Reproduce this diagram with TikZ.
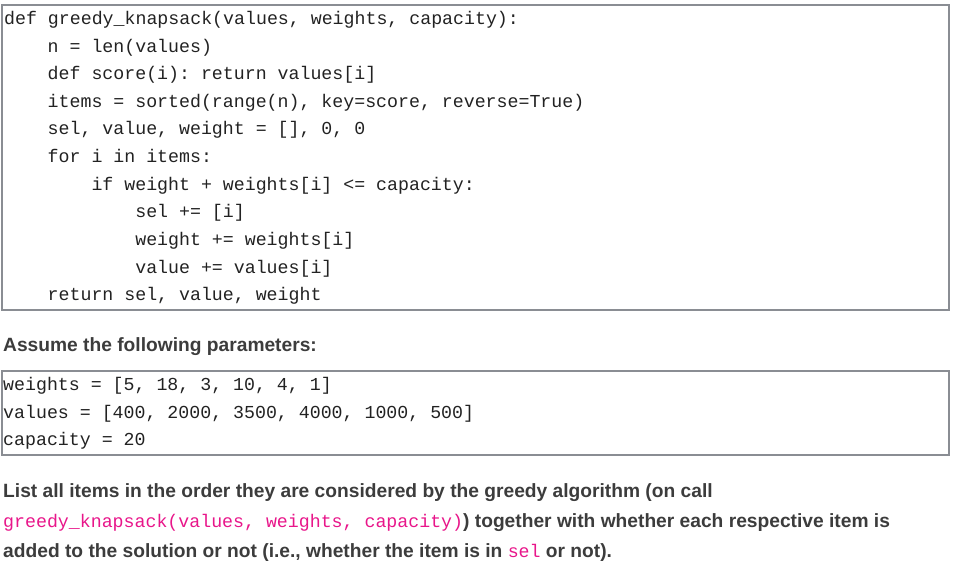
\documentclass[tikz,border=0pt]{standalone}
\usepackage{fontspec}
\setmainfont{Liberation Sans}
\setmonofont{Liberation Mono}
\definecolor{boxgray}{HTML}{8A8D93}
\definecolor{txt}{HTML}{3C3C3C}
\definecolor{codec}{HTML}{222222}
\definecolor{mag}{HTML}{E8168A}
\newcommand\cfont{\fontsize{18.25}{20}\ttfamily}
\begin{document}
\begin{tikzpicture}[x=1pt,y=-1pt,
  code/.style={anchor=base west,inner sep=0pt,font=\cfont,text=codec},
  para/.style={anchor=base west,inner sep=0pt,font=\fontsize{19.2}{21}\bfseries,text=txt},
  frame/.style={draw=boxgray,line width=1.6pt}]
\useasboundingbox (0,0) rectangle (963,564);
\draw[frame] (2,5) rectangle (949,310);
\node[code] (c1) at (4,25) {def greedy\_knapsack(values, weights, capacity):};
\node[code] (c2) at (47.5,53) {n = len(values)};
\node[code] (c3) at (47.5,80) {def score(i): return values[i]};
\node[code] (c4) at (47.5,108) {items = sorted(range(n), key=score, reverse=True)};
\node[code] (c5) at (47.5,135) {sel, value, weight = [], 0, 0};
\node[code] (c6) at (47.5,163) {for i in items:};
\node[code] (c7) at (91.3,190) {if weight + weights[i] <= capacity:};
\node[code] (c8) at (135.1,218) {sel += [i]};
\node[code] (c9) at (135.1,245) {weight += weights[i]};
\node[code] (c10) at (135.1,273) {value += values[i]};
\node[code] (c11) at (47.5,300) {return sel, value, weight};
\node[para] (h) at (3,351) {Assume the following parameters:};
\draw[frame] (2,371) rectangle (949,455);
\node[code] (p1) at (3,390) {weights = [5, 18, 3, 10, 4, 1]};
\node[code] (p2) at (3,418) {values = [400, 2000, 3500, 4000, 1000, 500]};
\node[code] (p3) at (3,445) {capacity = 20};
\node[para] (l1) at (3,497) {List all items in the order they are considered by the greedy algorithm (on call};
\node[para] (l2) at (3,527) {{\mdseries\cfont\color{mag}greedy\_knapsack(values, weights, capacity)}) together with whether each respective item is};
\node[para] (l3) at (3,557) {added to the solution or not (i.e., whether the item is in {\mdseries\cfont\color{mag}sel} or not).};
\end{tikzpicture}
\end{document}
